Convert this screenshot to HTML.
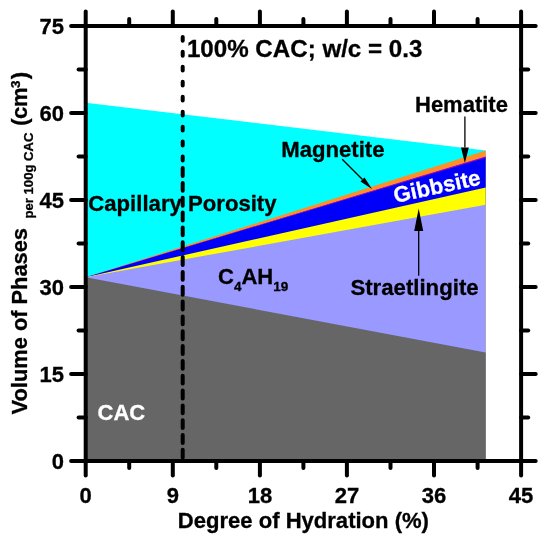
<!DOCTYPE html>
<html><head><meta charset="utf-8"><title>Volume of Phases</title>
<style>
html,body{margin:0;padding:0;background:#fff;}
svg{display:block;}
text.w{fill:#fff;stroke:#fff;}
text{font-family:"Liberation Sans",Arial,sans-serif;font-weight:bold;stroke:#000;stroke-width:0.3px;}
</style></head><body>
<svg width="550" height="540" viewBox="0 0 550 540">
<rect width="550" height="540" fill="#fff"/>
<polygon points="85.7,102.7 485.7,150.4 485.7,461.0 85.7,461.0" fill="#00ffff"/>
<polygon points="85.7,277.2 485.7,150.5 485.7,461.0 85.7,461.0" fill="#ff8f26"/>
<polygon points="85.7,277.2 485.7,157.1 485.7,461.0 85.7,461.0" fill="#0000fa"/>
<polygon points="85.7,277.2 485.7,187.5 485.7,461.0 85.7,461.0" fill="#ffff00"/>
<polygon points="85.7,277.2 485.7,204.8 485.7,461.0 85.7,461.0" fill="#9999ff"/>
<polygon points="85.7,277.2 485.7,352.6 485.7,461.0 85.7,461.0" fill="#666666"/>
<polygon points="85.7,277.2 485.7,156.5 485.7,157.7" fill="#a000c8"/>
<line x1="182.7" y1="36.9" x2="182.7" y2="160.8" stroke="#000" stroke-width="4" stroke-linecap="round" stroke-dasharray="3.8 11.16"/>
<line x1="182.7" y1="168.1" x2="182.7" y2="461" stroke="#000" stroke-width="4" stroke-linecap="round" stroke-dasharray="7.9 6.93"/>
<g stroke="#000" stroke-width="4.0" stroke-linecap="round" fill="none">
<rect x="85.7" y="26.0" width="435.4" height="435.0" stroke-linecap="butt"/>
<line x1="85.7" y1="461.0" x2="85.7" y2="475.6"/>
<line x1="85.7" y1="26.0" x2="85.7" y2="11.4"/>
<line x1="129.2" y1="461.0" x2="129.2" y2="468.1"/>
<line x1="129.2" y1="26.0" x2="129.2" y2="18.9"/>
<line x1="172.8" y1="461.0" x2="172.8" y2="475.6"/>
<line x1="172.8" y1="26.0" x2="172.8" y2="11.4"/>
<line x1="216.3" y1="461.0" x2="216.3" y2="468.1"/>
<line x1="216.3" y1="26.0" x2="216.3" y2="18.9"/>
<line x1="259.9" y1="461.0" x2="259.9" y2="475.6"/>
<line x1="259.9" y1="26.0" x2="259.9" y2="11.4"/>
<line x1="303.4" y1="461.0" x2="303.4" y2="468.1"/>
<line x1="303.4" y1="26.0" x2="303.4" y2="18.9"/>
<line x1="346.9" y1="461.0" x2="346.9" y2="475.6"/>
<line x1="346.9" y1="26.0" x2="346.9" y2="11.4"/>
<line x1="390.5" y1="461.0" x2="390.5" y2="468.1"/>
<line x1="390.5" y1="26.0" x2="390.5" y2="18.9"/>
<line x1="434.0" y1="461.0" x2="434.0" y2="475.6"/>
<line x1="434.0" y1="26.0" x2="434.0" y2="11.4"/>
<line x1="477.6" y1="461.0" x2="477.6" y2="468.1"/>
<line x1="477.6" y1="26.0" x2="477.6" y2="18.9"/>
<line x1="521.1" y1="461.0" x2="521.1" y2="475.6"/>
<line x1="521.1" y1="26.0" x2="521.1" y2="11.4"/>
<line x1="85.7" y1="461.0" x2="71.1" y2="461.0"/>
<line x1="521.1" y1="461.0" x2="535.7" y2="461.0"/>
<line x1="85.7" y1="417.5" x2="78.6" y2="417.5"/>
<line x1="521.1" y1="417.5" x2="528.2" y2="417.5"/>
<line x1="85.7" y1="374.0" x2="71.1" y2="374.0"/>
<line x1="521.1" y1="374.0" x2="535.7" y2="374.0"/>
<line x1="85.7" y1="330.5" x2="78.6" y2="330.5"/>
<line x1="521.1" y1="330.5" x2="528.2" y2="330.5"/>
<line x1="85.7" y1="287.0" x2="71.1" y2="287.0"/>
<line x1="521.1" y1="287.0" x2="535.7" y2="287.0"/>
<line x1="85.7" y1="243.5" x2="78.6" y2="243.5"/>
<line x1="521.1" y1="243.5" x2="528.2" y2="243.5"/>
<line x1="85.7" y1="200.0" x2="71.1" y2="200.0"/>
<line x1="521.1" y1="200.0" x2="535.7" y2="200.0"/>
<line x1="85.7" y1="156.5" x2="78.6" y2="156.5"/>
<line x1="521.1" y1="156.5" x2="528.2" y2="156.5"/>
<line x1="85.7" y1="113.0" x2="71.1" y2="113.0"/>
<line x1="521.1" y1="113.0" x2="535.7" y2="113.0"/>
<line x1="85.7" y1="69.5" x2="78.6" y2="69.5"/>
<line x1="521.1" y1="69.5" x2="528.2" y2="69.5"/>
<line x1="85.7" y1="26.0" x2="71.1" y2="26.0"/>
<line x1="521.1" y1="26.0" x2="535.7" y2="26.0"/>
</g>
<text x="85.7" y="503.3" font-size="22.0" text-anchor="middle">0</text>
<text x="172.8" y="503.3" font-size="22.0" text-anchor="middle">9</text>
<text x="259.9" y="503.3" font-size="22.0" text-anchor="middle">18</text>
<text x="346.9" y="503.3" font-size="22.0" text-anchor="middle">27</text>
<text x="434.0" y="503.3" font-size="22.0" text-anchor="middle">36</text>
<text x="521.1" y="503.3" font-size="22.0" text-anchor="middle">45</text>
<text x="64" y="468.8" font-size="22.0" text-anchor="end">0</text>
<text x="64" y="381.8" font-size="22.0" text-anchor="end">15</text>
<text x="64" y="294.8" font-size="22.0" text-anchor="end">30</text>
<text x="64" y="207.8" font-size="22.0" text-anchor="end">45</text>
<text x="64" y="120.8" font-size="22.0" text-anchor="end">60</text>
<text x="64" y="33.8" font-size="22.0" text-anchor="end">75</text>
<text x="303.4" y="528.3" font-size="22.05" text-anchor="middle">Degree of Hydration (%)</text>
<text transform="translate(27.4,414.4) rotate(-90)" font-size="22"><tspan font-size="21.83">Volume of Phases </tspan><tspan font-size="13.1" dy="5.5" dx="3.5">per 100g CAC</tspan><tspan dy="-5.5" dx="1" letter-spacing="-0.4"> (cm</tspan><tspan font-size="13.4" dy="-7.4">3</tspan><tspan dy="7.4" dx="1.2">)</tspan></text>
<text x="186.9" y="56.6" font-size="24.15">100% CAC; w/c = 0.3</text>
<text x="88.3" y="211" font-size="22.15">Capillary Porosity</text>
<text x="218" y="284.2" font-size="22">C<tspan font-size="13.5" dy="6.3">4</tspan><tspan dy="-6.3">AH</tspan><tspan font-size="13.5" dy="6.3">19</tspan></text>
<text x="350.4" y="295" font-size="22.2">Straetlingite</text>
<text x="415" y="112.3" font-size="22">Hematite</text>
<text x="281.2" y="156.8" font-size="22.15">Magnetite</text>
<text x="97.6" y="420" font-size="22" class="w">CAC</text>
<text transform="translate(395.2,203.0) rotate(-12.2)" font-size="22.1" class="w">Gibbsite</text>
<line x1="464.9" y1="116.4" x2="464.9" y2="147.6" stroke="#000" stroke-width="1.3"/>
<polygon points="464.9,163.0 461.0,147.6 468.8,147.6" fill="#000"/>
<line x1="342.2" y1="159.3" x2="362.5" y2="179.5" stroke="#000" stroke-width="1.3"/>
<polygon points="372.0,189.0 360.5,181.5 364.5,177.6" fill="#000"/>
<line x1="418.7" y1="275.7" x2="418.7" y2="230.9" stroke="#000" stroke-width="1.3"/>
<polygon points="418.7,208.5 423.2,230.9 414.2,230.9" fill="#000"/>
</svg>
</body></html>
